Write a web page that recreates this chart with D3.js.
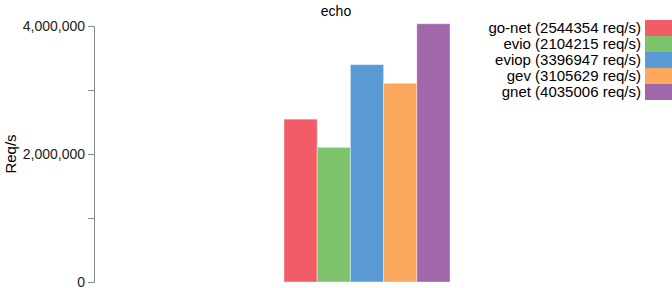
<!DOCTYPE html>
<meta charset="utf-8">
<head>
    <title>echo benchmark</title>
</head>
<script src="https://d3js.org/d3.v7.min.js"></script>
<style>
    body { margin: 0; background: #fff; }
    svg { font-family: "Liberation Sans", Arial, sans-serif; }
    .axis path, .axis line { stroke: #888; }
    .axis text { font-size: 14px; fill: #222; }
</style>
<div id="viz"></div>
<script>
// data
var servers = ['go-net', 'evio', 'eviop', 'gev', 'gnet'];
var reqs    = [2544354, 2104215, 3396947, 3105629, 4035006];
var colors  = ['#f25c66', '#7ec46c', '#5b9bd5', '#fba85c', '#a067ab'];
var yTicks  = [0, 1000000, 2000000, 3000000, 4000000];

var W = 672, H = 288;
var margin = {top: 26, right: 0, bottom: 6, left: 94};

var svg = d3.select('#viz').append('svg')
    .attr('width', W)
    .attr('height', H);

var y = d3.scaleLinear()
    .domain([0, 4000000])
    .range([H - margin.bottom, margin.top]);

var x = d3.scaleBand()
    .domain(servers)
    .range([284, 450])
    .padding(0);

var color = d3.scaleOrdinal().domain(servers).range(colors);

// y axis
svg.append('g')
    .attr('class', 'axis')
    .attr('transform', 'translate(' + margin.left + ',0)')
    .call(d3.axisLeft(y)
        .tickValues(yTicks)
        .tickSize(6)
        .tickFormat(function(d) { return d % 2000000 === 0 ? d3.format(',')(d) : ''; }));

svg.append('text')
    .attr('transform', 'translate(16,' + y(2000000) + ')rotate(-90)')
    .style('text-anchor', 'middle')
    .style('font-size', '15px')
    .text('Req/s');

svg.append('text')
    .attr('x', 336)
    .attr('y', 16)
    .style('text-anchor', 'middle')
    .style('font-size', '14px')
    .text('echo');

// bars
svg.append('g')
    .selectAll('rect')
    .data(servers)
    .enter()
    .append('rect')
    .attr('x', function(d) { return x(d); })
    .attr('y', function(d, i) { return y(reqs[i]); })
    .attr('width', x.bandwidth())
    .attr('height', function(d, i) { return y(0) - y(reqs[i]); })
    .attr('fill', function(d) { return color(d); })
    .attr('stroke', '#fff')
    .attr('stroke-opacity', 0.4)
    .attr('stroke-width', 1);

// legend
var legend = svg.append('g')
    .attr('transform', 'translate(645,20)');

var item = legend.selectAll('g')
    .data(servers)
    .enter()
    .append('g')
    .attr('transform', function(d, i) { return 'translate(0,' + (i * 16) + ')'; });

item.append('rect')
    .attr('width', 28)
    .attr('height', 16)
    .attr('fill', function(d) { return color(d); });

item.append('text')
    .attr('x', -4)
    .attr('y', 13)
    .style('text-anchor', 'end')
    .style('font-size', '15px')
    .text(function(d, i) { return d + ' (' + reqs[i] + ' req/s)'; });
</script>
